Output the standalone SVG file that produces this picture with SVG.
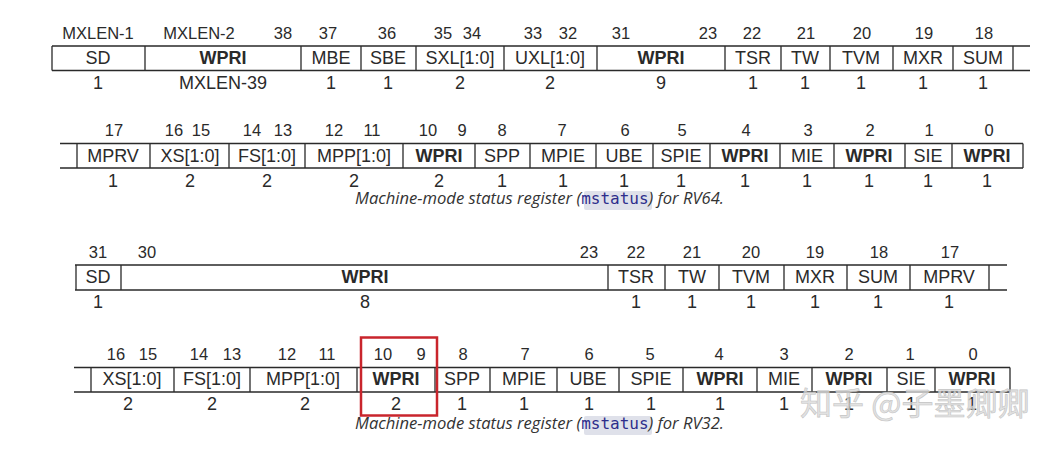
<svg xmlns="http://www.w3.org/2000/svg" width="1059" height="450" viewBox="0 0 1059 450">
<style>
.ln{stroke:#2a2a2a;stroke-width:1.3;fill:none}
.bit{font-family:"Liberation Sans",Arial,sans-serif;font-size:16.5px;fill:#2a2a2a;text-anchor:middle}
.fld{font-family:"Liberation Sans",Arial,sans-serif;font-size:18px;fill:#2a2a2a;text-anchor:middle}
.b{font-weight:bold}
.w{font-family:"Liberation Sans",Arial,sans-serif;font-size:18px;fill:#2a2a2a;text-anchor:middle}
.cap{font-family:"Open Sans","Noto Sans",sans-serif;font-style:italic;font-size:16.6px;fill:#333}
.mono{font-family:"DejaVu Sans Mono",monospace;font-style:normal;fill:#2e2e8c;font-size:16px}
.hl{fill:#dfe1ea}
.wm{font-family:"Noto Sans CJK SC",sans-serif;font-size:32px;fill:#dadada;fill-opacity:0.8;stroke:#c4c4c4;stroke-width:0.6}
</style>
<rect width="1059" height="450" fill="#ffffff"/>

<g id="connectors">
<path class="ln" d="M52 46H1030M52 70.5H1030M52 46V70.5M145 46V70.5M301 46V70.5M361 46V70.5M416 46V70.5M504 46V70.5M597 46V70.5M725 46V70.5M781 46V70.5M830 46V70.5M893 46V70.5M953 46V70.5M1013 46V70.5"/>
<path class="ln" d="M60 143.5H1023M60 168H1023M77 143.5V168M150 143.5V168M229 143.5V168M305 143.5V168M403 143.5V168M475 143.5V168M530 143.5V168M596 143.5V168M653 143.5V168M710 143.5V168M780 143.5V168M834 143.5V168M905 143.5V168M952 143.5V168M1023 143.5V168"/>
<path class="ln" d="M75 265H1007M75 290H1007M76 265V290M121 265V290M608 265V290M665 265V290M719 265V290M784 265V290M847 265V290M910 265V290M989 265V290"/>
<path class="ln" d="M74 367.5H1010M74 392H1010M91 367.5V392M174 367.5V392M250 367.5V392M357 367.5V392M435 367.5V392M490 367.5V392M557 367.5V392M619 367.5V392M683 367.5V392M757 367.5V392M812 367.5V392M887 367.5V392M935 367.5V392M1010 367.5V392"/>
</g>

<g id="rv64-row1">
<text class="bit" x="98" y="39">MXLEN-1</text>
<text class="bit" x="199" y="39">MXLEN-2</text>
<text class="bit" x="283" y="39">38</text>
<text class="bit" x="328" y="39">37</text>
<text class="bit" x="387" y="39">36</text>
<text class="bit" x="443" y="39">35</text>
<text class="bit" x="472" y="39">34</text>
<text class="bit" x="533" y="39">33</text>
<text class="bit" x="568" y="39">32</text>
<text class="bit" x="621" y="39">31</text>
<text class="bit" x="708" y="39">23</text>
<text class="bit" x="752" y="39">22</text>
<text class="bit" x="806" y="39">21</text>
<text class="bit" x="862" y="39">20</text>
<text class="bit" x="924" y="39">19</text>
<text class="bit" x="984" y="39">18</text>
<text class="fld" x="98" y="64">SD</text>
<text class="fld b" x="223" y="64">WPRI</text>
<text class="fld" x="331" y="64">MBE</text>
<text class="fld" x="388" y="64">SBE</text>
<text class="fld" x="460" y="64">SXL[1:0]</text>
<text class="fld" x="550" y="64">UXL[1:0]</text>
<text class="fld b" x="661" y="64">WPRI</text>
<text class="fld" x="753" y="64">TSR</text>
<text class="fld" x="805" y="64">TW</text>
<text class="fld" x="861" y="64">TVM</text>
<text class="fld" x="923" y="64">MXR</text>
<text class="fld" x="983" y="64">SUM</text>
<text class="w" x="98" y="89">1</text>
<text class="w" x="223" y="89">MXLEN-39</text>
<text class="w" x="331" y="89">1</text>
<text class="w" x="388" y="89">1</text>
<text class="w" x="460" y="89">2</text>
<text class="w" x="550" y="89">2</text>
<text class="w" x="661" y="89">9</text>
<text class="w" x="753" y="89">1</text>
<text class="w" x="805" y="89">1</text>
<text class="w" x="861" y="89">1</text>
<text class="w" x="923" y="89">1</text>
<text class="w" x="983" y="89">1</text>
</g>

<g id="rv64-row2">
<text class="bit" x="114" y="136">17</text>
<text class="bit" x="174" y="136">16</text>
<text class="bit" x="201" y="136">15</text>
<text class="bit" x="252" y="136">14</text>
<text class="bit" x="283" y="136">13</text>
<text class="bit" x="334" y="136">12</text>
<text class="bit" x="372" y="136">11</text>
<text class="bit" x="428" y="136">10</text>
<text class="bit" x="462" y="136">9</text>
<text class="bit" x="502" y="136">8</text>
<text class="bit" x="562" y="136">7</text>
<text class="bit" x="625" y="136">6</text>
<text class="bit" x="682" y="136">5</text>
<text class="bit" x="746" y="136">4</text>
<text class="bit" x="808" y="136">3</text>
<text class="bit" x="870" y="136">2</text>
<text class="bit" x="929" y="136">1</text>
<text class="bit" x="989" y="136">0</text>
<text class="fld" x="113" y="162">MPRV</text>
<text class="fld" x="190" y="162">XS[1:0]</text>
<text class="fld" x="267" y="162">FS[1:0]</text>
<text class="fld" x="354" y="162">MPP[1:0]</text>
<text class="fld b" x="439" y="162">WPRI</text>
<text class="fld" x="502" y="162">SPP</text>
<text class="fld" x="563" y="162">MPIE</text>
<text class="fld" x="624" y="162">UBE</text>
<text class="fld" x="681" y="162">SPIE</text>
<text class="fld b" x="745" y="162">WPRI</text>
<text class="fld" x="807" y="162">MIE</text>
<text class="fld b" x="869" y="162">WPRI</text>
<text class="fld" x="928" y="162">SIE</text>
<text class="fld b" x="987" y="162">WPRI</text>
<text class="w" x="113" y="187">1</text>
<text class="w" x="190" y="187">2</text>
<text class="w" x="267" y="187">2</text>
<text class="w" x="354" y="187">2</text>
<text class="w" x="439" y="187">2</text>
<text class="w" x="502" y="187">1</text>
<text class="w" x="563" y="187">1</text>
<text class="w" x="624" y="187">1</text>
<text class="w" x="681" y="187">1</text>
<text class="w" x="745" y="187">1</text>
<text class="w" x="807" y="187">1</text>
<text class="w" x="869" y="187">1</text>
<text class="w" x="928" y="187">1</text>
<text class="w" x="987" y="187">1</text>
</g>

<g id="caption-rv64">
<rect class="hl" x="584" y="191" width="68" height="19" rx="2"/>
<text class="cap" x="355" y="204">Machine-mode status register (<tspan class="mono">mstatus</tspan>) for RV64.</text>
</g>

<g id="rv32-row1">
<text class="bit" x="98" y="258">31</text>
<text class="bit" x="147" y="258">30</text>
<text class="bit" x="589" y="258">23</text>
<text class="bit" x="636" y="258">22</text>
<text class="bit" x="692" y="258">21</text>
<text class="bit" x="751" y="258">20</text>
<text class="bit" x="815" y="258">19</text>
<text class="bit" x="879" y="258">18</text>
<text class="bit" x="950" y="258">17</text>
<text class="fld" x="98" y="283">SD</text>
<text class="fld b" x="365" y="283">WPRI</text>
<text class="fld" x="636" y="283">TSR</text>
<text class="fld" x="692" y="283">TW</text>
<text class="fld" x="751" y="283">TVM</text>
<text class="fld" x="815" y="283">MXR</text>
<text class="fld" x="878" y="283">SUM</text>
<text class="fld" x="949" y="283">MPRV</text>
<text class="w" x="98" y="308">1</text>
<text class="w" x="365" y="308">8</text>
<text class="w" x="636" y="308">1</text>
<text class="w" x="692" y="308">1</text>
<text class="w" x="751" y="308">1</text>
<text class="w" x="815" y="308">1</text>
<text class="w" x="878" y="308">1</text>
<text class="w" x="949" y="308">1</text>
</g>

<g id="rv32-row2">
<text class="bit" x="116" y="360">16</text>
<text class="bit" x="148" y="360">15</text>
<text class="bit" x="199" y="360">14</text>
<text class="bit" x="232" y="360">13</text>
<text class="bit" x="287" y="360">12</text>
<text class="bit" x="327" y="360">11</text>
<text class="bit" x="383" y="360">10</text>
<text class="bit" x="421" y="360">9</text>
<text class="bit" x="463" y="360">8</text>
<text class="bit" x="525" y="360">7</text>
<text class="bit" x="589" y="360">6</text>
<text class="bit" x="650" y="360">5</text>
<text class="bit" x="719" y="360">4</text>
<text class="bit" x="784" y="360">3</text>
<text class="bit" x="849" y="360">2</text>
<text class="bit" x="910" y="360">1</text>
<text class="bit" x="973" y="360">0</text>
<text class="fld" x="132" y="385">XS[1:0]</text>
<text class="fld" x="212" y="385">FS[1:0]</text>
<text class="fld" x="303" y="385">MPP[1:0]</text>
<text class="fld b" x="396" y="385">WPRI</text>
<text class="fld" x="462" y="385">SPP</text>
<text class="fld" x="524" y="385">MPIE</text>
<text class="fld" x="588" y="385">UBE</text>
<text class="fld" x="651" y="385">SPIE</text>
<text class="fld b" x="720" y="385">WPRI</text>
<text class="fld" x="784" y="385">MIE</text>
<text class="fld b" x="849" y="385">WPRI</text>
<text class="fld" x="911" y="385">SIE</text>
<text class="fld b" x="972" y="385">WPRI</text>
<text class="w" x="128" y="410">2</text>
<text class="w" x="212" y="410">2</text>
<text class="w" x="305" y="410">2</text>
<text class="w" x="396" y="410">2</text>
<text class="w" x="462" y="410">1</text>
<text class="w" x="524" y="410">1</text>
<text class="w" x="589" y="410">1</text>
<text class="w" x="651" y="410">1</text>
<text class="w" x="720" y="410">1</text>
<text class="w" x="784" y="410">1</text>
<text class="w" x="849" y="410">1</text>
<text class="w" x="911" y="410">1</text>
<text class="w" x="972" y="410">1</text>
</g>

<g id="highlight">
<rect x="361" y="337.5" width="76" height="78" fill="none" stroke="#c9252c" stroke-width="2.5"/>
</g>

<g id="caption-rv32">
<rect class="hl" x="584" y="416" width="68" height="19" rx="2"/>
<text class="cap" x="355" y="429">Machine-mode status register (<tspan class="mono">mstatus</tspan>) for RV32.</text>
</g>

<g id="watermark">
<text class="wm" x="800" y="415">知乎 @子墨卿卿</text>
</g>
</svg>
